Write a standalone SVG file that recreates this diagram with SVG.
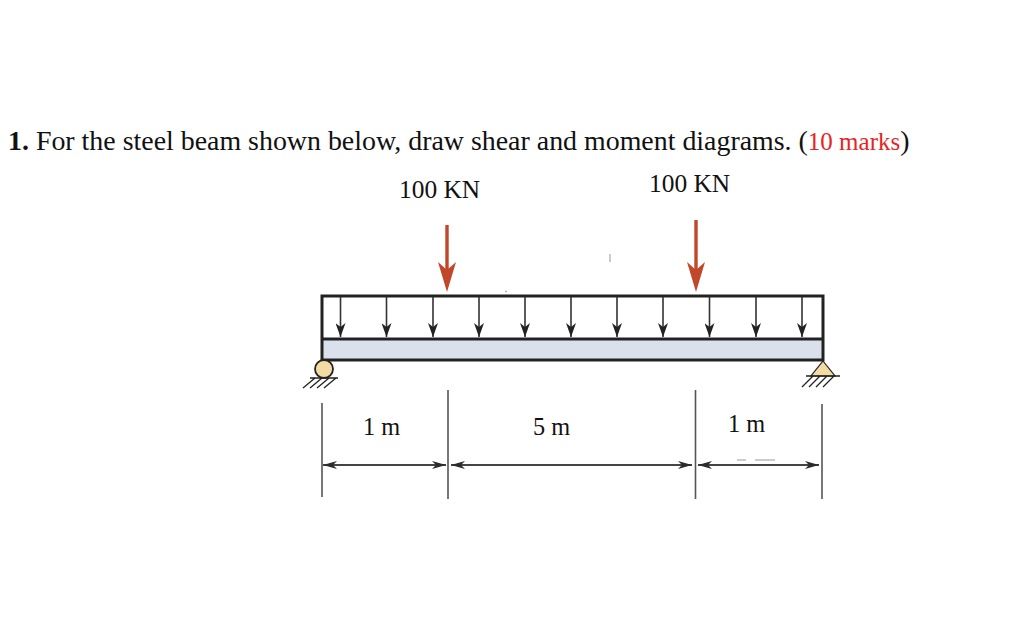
<svg xmlns="http://www.w3.org/2000/svg" width="1024" height="630" viewBox="0 0 1024 630">
<defs>
<marker id="load" markerUnits="userSpaceOnUse" markerWidth="14" markerHeight="10" refX="14" refY="5" orient="auto" viewBox="0 0 14 10"><path d="M0 0 L4 5 L0 10 L14 5Z" fill="#222"/></marker>
<marker id="dim" markerUnits="userSpaceOnUse" markerWidth="14" markerHeight="8" refX="14" refY="4" orient="auto-start-reverse" viewBox="0 0 14 8"><path d="M0 0 L14 4 L0 8 L4 4Z" fill="#2b2b2b"/></marker>
</defs>
<style>
text{font-family:"Liberation Serif","Times New Roman",serif;fill:#111}
.t{font-size:27.9px}
.l{font-size:25.4px}
.d{font-size:24.3px}
.load{stroke:#333;stroke-width:1.6;fill:none;marker-end:url(#load)}
.dimline{stroke:#444;stroke-width:1.8;fill:none;marker-start:url(#dim);marker-end:url(#dim)}
.ext{stroke:#555;stroke-width:1.6;fill:none}
.hatch{stroke:#222;stroke-width:1.3;fill:none}
.red{stroke:#c1472b;stroke-width:3.4;fill:none}
.redhead{fill:#c1472b}
.speck{stroke:#999;stroke-width:1;fill:none}
</style>
<rect width="1024" height="630" fill="#fff"/>
<g id="title">
<text class="t" x="8" y="150"><tspan font-weight="bold">1.</tspan> For the steel beam shown below, draw shear and moment diagrams. (<tspan style="fill:#e8231f" font-size="25">10 marks</tspan>)</text>
</g>
<g id="force-labels">
<text class="l" x="399" y="198">100 KN</text>
<text class="l" x="649" y="192">100 KN</text>
</g>
<g id="beam">
<rect x="322" y="339" width="501" height="21" fill="#dbe1ec"/>
<path d="M322 339H823" stroke="#222" stroke-width="3" fill="none"/>
<rect x="322" y="296" width="501" height="64" fill="none" stroke="#222" stroke-width="3"/>
</g>
<g id="connectors">
<g id="distributed-load">
<path class="load" d="M340.500 297V337"/><path class="load" d="M386.500 297V337"/><path class="load" d="M433 297V337"/><path class="load" d="M479 297V337"/><path class="load" d="M525 297V337"/><path class="load" d="M571 297V337"/><path class="load" d="M617 297V337"/><path class="load" d="M663 297V337"/><path class="load" d="M709.500 297V337"/><path class="load" d="M756 297V337"/><path class="load" d="M802 297V337"/>
</g>
<g id="point-loads">
<path class="red" d="M447 225V270"/><path class="redhead" d="M438 262L447 270L456 262L447 292Z"/>
<path class="red" d="M696 220V270"/><path class="redhead" d="M687 262L696 270L705 262L696 292Z"/>
</g>
<g id="dimensions">
<path class="ext" d="M322 403V497"/><path class="ext" d="M448 390V499"/><path class="ext" d="M695.500 390V499"/><path class="ext" d="M822 404V499"/>
<path class="dimline" d="M323 465H446"/><path class="dimline" d="M451 465H692"/><path class="dimline" d="M698 465H819"/>
</g>
</g>
<g id="pin-left">
<circle cx="324" cy="369" r="9" fill="#f2dca3" stroke="#222" stroke-width="1.8"/>
<path class="hatch" d="M310 378H338M315 378L303 388M322 378L310 388M329 378L317 388M336 378L324 388"/>
</g>
<g id="pin-right">
<path d="M823 361L835 376H811Z" fill="#f2dca3" stroke="#222" stroke-width="1.2"/>
<path class="hatch" d="M806 376H840M813 376L802 387M820 376L809 387M827 376L816 387M834 376L823 387"/>
</g>
<g id="dimension-labels">
<text class="d" x="363" y="435">1 m</text>
<text class="d" x="533" y="435">5 m</text>
<text class="d" x="728" y="432">1 m</text>
</g>
<g id="specks">
<path class="speck" d="M505 291l2 1M610 254v8M737 460h9M755 460h20" />
</g>
</svg>
